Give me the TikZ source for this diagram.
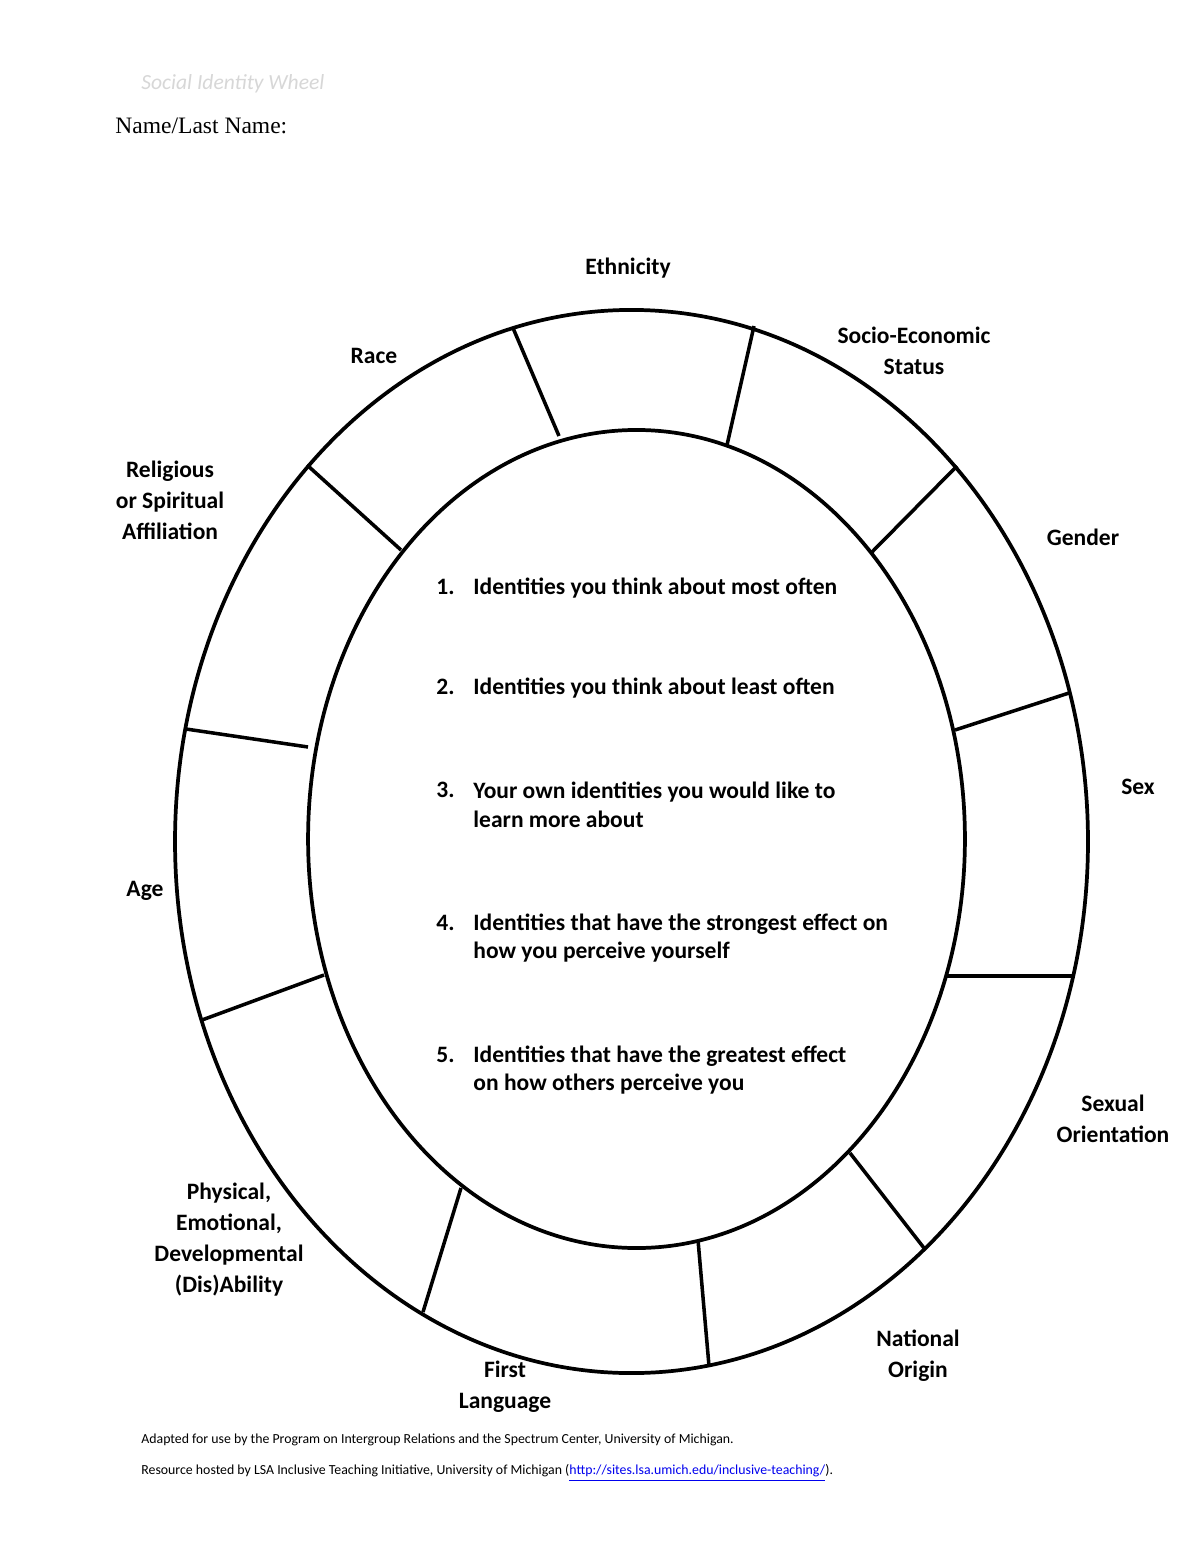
\documentclass[tikz,border=0pt]{standalone}
\usepackage{fontspec}
\setmainfont{Carlito}
\newfontfamily\namefont{Liberation Serif}
\definecolor{hdrgray}{RGB}{215,215,215}
\definecolor{linkblue}{RGB}{0,0,238}
\tikzset{
  ring/.style={line width=1.9pt},
  divider/.style={line width=1.8pt},
  lbl/.style={font=\bfseries\fontsize{12}{15.8}\selectfont, align=center, inner sep=0pt},
  num/.style={font=\bfseries\fontsize{12}{14.6}\selectfont, anchor=west, inner sep=0pt},
  item/.style={font=\bfseries\fontsize{12}{14.6}\selectfont, anchor=west, align=left, inner sep=0pt},
  foot/.style={font=\fontsize{7.05}{9}\selectfont, anchor=west, inner sep=0pt}
}
\newcommand{\numstrut}{\vphantom{Ify}}
\begin{document}
\begin{tikzpicture}[x=0.51pt,y=-0.51pt]
\useasboundingbox[fill=white] (0,0) rectangle (1200,1553);
% header
\node[anchor=west, inner sep=0pt, text=hdrgray, font=\itshape\fontsize{11}{13}\selectfont] (title) at (141,84) {Social Identity Wheel};
\node[anchor=west, inner sep=0pt, font=\namefont\fontsize{12}{14}\selectfont] (name) at (115,126) {Name/Last Name:};
% rings
\draw[ring] (631.5,841.5) ellipse [x radius=232.8pt, y radius=271.1pt];
\draw[ring] (636.5,839) ellipse [x radius=167.5pt, y radius=208.6pt];
% dividers
\coordinate (o1) at (513,328);  \coordinate (i1) at (559,436);
\coordinate (o2) at (754,326);  \coordinate (i2) at (727,445);
\coordinate (o3) at (957,466);  \coordinate (i3) at (872,552);
\coordinate (o4) at (1069,693); \coordinate (i4) at (955,730);
\coordinate (o5) at (1072,976); \coordinate (i5) at (947,976);
\coordinate (o6) at (924,1248); \coordinate (i6) at (850,1153);
\coordinate (o7) at (709,1366); \coordinate (i7) at (698,1240);
\coordinate (o8) at (423,1312); \coordinate (i8) at (461,1188);
\coordinate (o9) at (202,1020); \coordinate (i9) at (324,975);
\coordinate (o10) at (186,729); \coordinate (i10) at (308,747);
\coordinate (o11) at (307,465); \coordinate (i11) at (401,550);
\foreach \k in {1,...,11} { \draw[divider] (o\k) -- (i\k); }
% labels
\node[lbl] (ethnicity) at (628,268) {Ethnicity};
\node[lbl] (ses) at (914,350.5) {Socio-Economic\\Status};
\node[lbl] (race) at (374,356) {Race};
\node[lbl] (religious) at (170,500) {Religious\\or Spiritual\\Affiliation};
\node[lbl] (gender) at (1083,537) {Gender};
\node[lbl] (sex) at (1138,787) {Sex};
\node[lbl] (age) at (145,891) {Age};
\node[lbl] (sexor) at (1113,1118.5) {Sexual\\Orientation};
\node[lbl] (physical) at (229,1239.5) {Physical,\\Emotional,\\Developmental\\(Dis)Ability};
\node[lbl] (national) at (918,1355.5) {National\\Origin};
\node[lbl] (first) at (505,1386.5) {First\\Language};
% list
\node[num] (n1) at (436,588) {\numstrut1.};
\node[item] (t1) at (473,588) {\numstrut Identities you think about most often};
\node[num] (n2) at (436,688) {\numstrut2.};
\node[item] (t2) at (473,688) {\numstrut Identities you think about least often};
\node[num] (n3) at (436,791) {\numstrut3.};
\node[item] (t3) at (473,805) {Your own identities you would like to\\learn more about};
\node[num] (n4) at (436,924) {\numstrut4.};
\node[item] (t4) at (473,938) {Identities that have the strongest effect on\\how you perceive yourself};
\node[num] (n5) at (436,1056) {\numstrut5.};
\node[item] (t5) at (473,1070) {Identities that have the greatest effect\\on how others perceive you};
% footer
\node[foot] (adapted) at (141,1440) {Adapted for use by the Program on Intergroup Relations and the Spectrum Center, University of Michigan.};
\node[foot] (hosted) at (141,1473) {Resource hosted by LSA Inclusive Teaching Initiative, University of Michigan ({\color{linkblue}\underline{http://sites.lsa.umich.edu/inclusive-teaching/}}).};
\end{tikzpicture}
\end{document}
